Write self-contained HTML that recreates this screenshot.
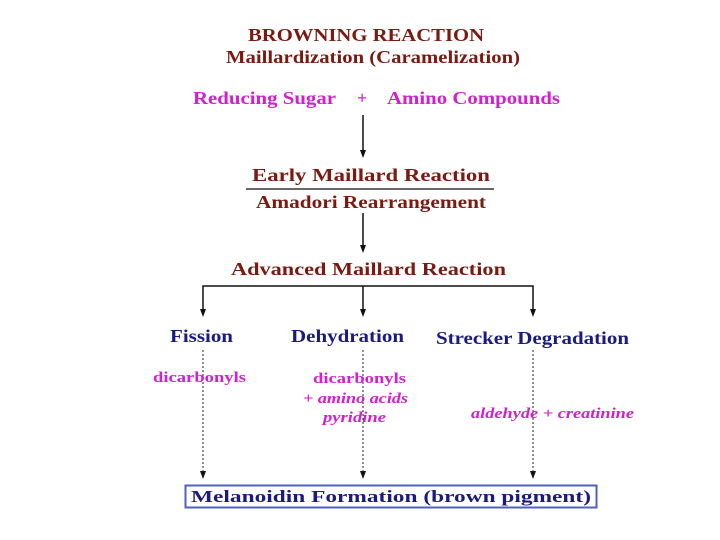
<!DOCTYPE html>
<html><head><style>
body{margin:0;background:#fff}
svg{display:block}
text{font-family:"Liberation Serif",serif;font-weight:bold}
</style></head><body>
<svg width="720" height="540" viewBox="0 0 720 540" xmlns="http://www.w3.org/2000/svg">
<g fill="#7a1a10" font-size="18">
<text x="248" y="41" textLength="236" lengthAdjust="spacingAndGlyphs">BROWNING REACTION</text>
<text x="226" y="63" textLength="294" lengthAdjust="spacingAndGlyphs">Maillardization (Caramelization)</text>
</g>
<g fill="#d020d0" font-size="18">
<text x="193" y="104" textLength="143" lengthAdjust="spacingAndGlyphs">Reducing Sugar</text>
<text x="357" y="104">+</text>
<text x="387" y="104" textLength="173" lengthAdjust="spacingAndGlyphs">Amino Compounds</text>
</g>
<g stroke="#111" stroke-width="1.5" fill="none">
<line x1="363" y1="115" x2="363" y2="152"/>
<line x1="363" y1="213" x2="363" y2="247"/>
<line x1="246" y1="189" x2="494" y2="189" stroke="#333"/>
<path d="M203,311 V286 H533 V311"/>
<line x1="363" y1="286" x2="363" y2="311"/>
</g>
<g fill="#111">
<path d="M360,150 L366,150 L363,158 Z"/>
<path d="M360,245 L366,245 L363,253 Z"/>
<path d="M200,309 L206,309 L203,317 Z"/>
<path d="M360,309 L366,309 L363,317 Z"/>
<path d="M530,309 L536,309 L533,317 Z"/>
<path d="M200,471 L206,471 L203,479 Z"/>
<path d="M360,471 L366,471 L363,479 Z"/>
<path d="M530,471 L536,471 L533,479 Z"/>
</g>
<g stroke="#222" stroke-width="1" stroke-dasharray="2,2">
<line x1="203" y1="350" x2="203" y2="474"/>
<line x1="363" y1="350" x2="363" y2="474"/>
<line x1="533" y1="350" x2="533" y2="474"/>
</g>
<g fill="#7a1a10" font-size="18">
<text x="252" y="181" textLength="238" lengthAdjust="spacingAndGlyphs">Early  Maillard  Reaction</text>
<text x="256" y="208" textLength="230" lengthAdjust="spacingAndGlyphs">Amadori  Rearrangement</text>
<text x="231" y="275" textLength="275" lengthAdjust="spacingAndGlyphs">Advanced  Maillard  Reaction</text>
</g>
<g fill="#1a1a80" font-size="18">
<text x="170" y="342" textLength="63" lengthAdjust="spacingAndGlyphs">Fission</text>
<text x="291" y="342" textLength="113" lengthAdjust="spacingAndGlyphs">Dehydration</text>
<text x="436" y="344" textLength="193" lengthAdjust="spacingAndGlyphs">Strecker Degradation</text>
</g>
<g fill="#d020d0" font-size="15">
<text x="153" y="382" textLength="93" lengthAdjust="spacingAndGlyphs">dicarbonyls</text>
<text x="313" y="383" textLength="93" lengthAdjust="spacingAndGlyphs">dicarbonyls</text>
<text x="303" y="403" font-style="italic" textLength="105" lengthAdjust="spacingAndGlyphs">+ amino acids</text>
<text x="323" y="422" font-style="italic" textLength="63" lengthAdjust="spacingAndGlyphs">pyridine</text>
<text x="471" y="418" font-style="italic" textLength="163" lengthAdjust="spacingAndGlyphs">aldehyde + creatinine</text>
</g>
<rect x="185.5" y="485.5" width="411" height="22" fill="#fff" stroke="#5060c0" stroke-width="2"/>
<text x="191" y="502" fill="#1a1a80" font-size="17" font-family="Liberation Sans,sans-serif" textLength="400" lengthAdjust="spacingAndGlyphs">Melanoidin  Formation  (brown pigment)</text>
</svg>
</body></html>
